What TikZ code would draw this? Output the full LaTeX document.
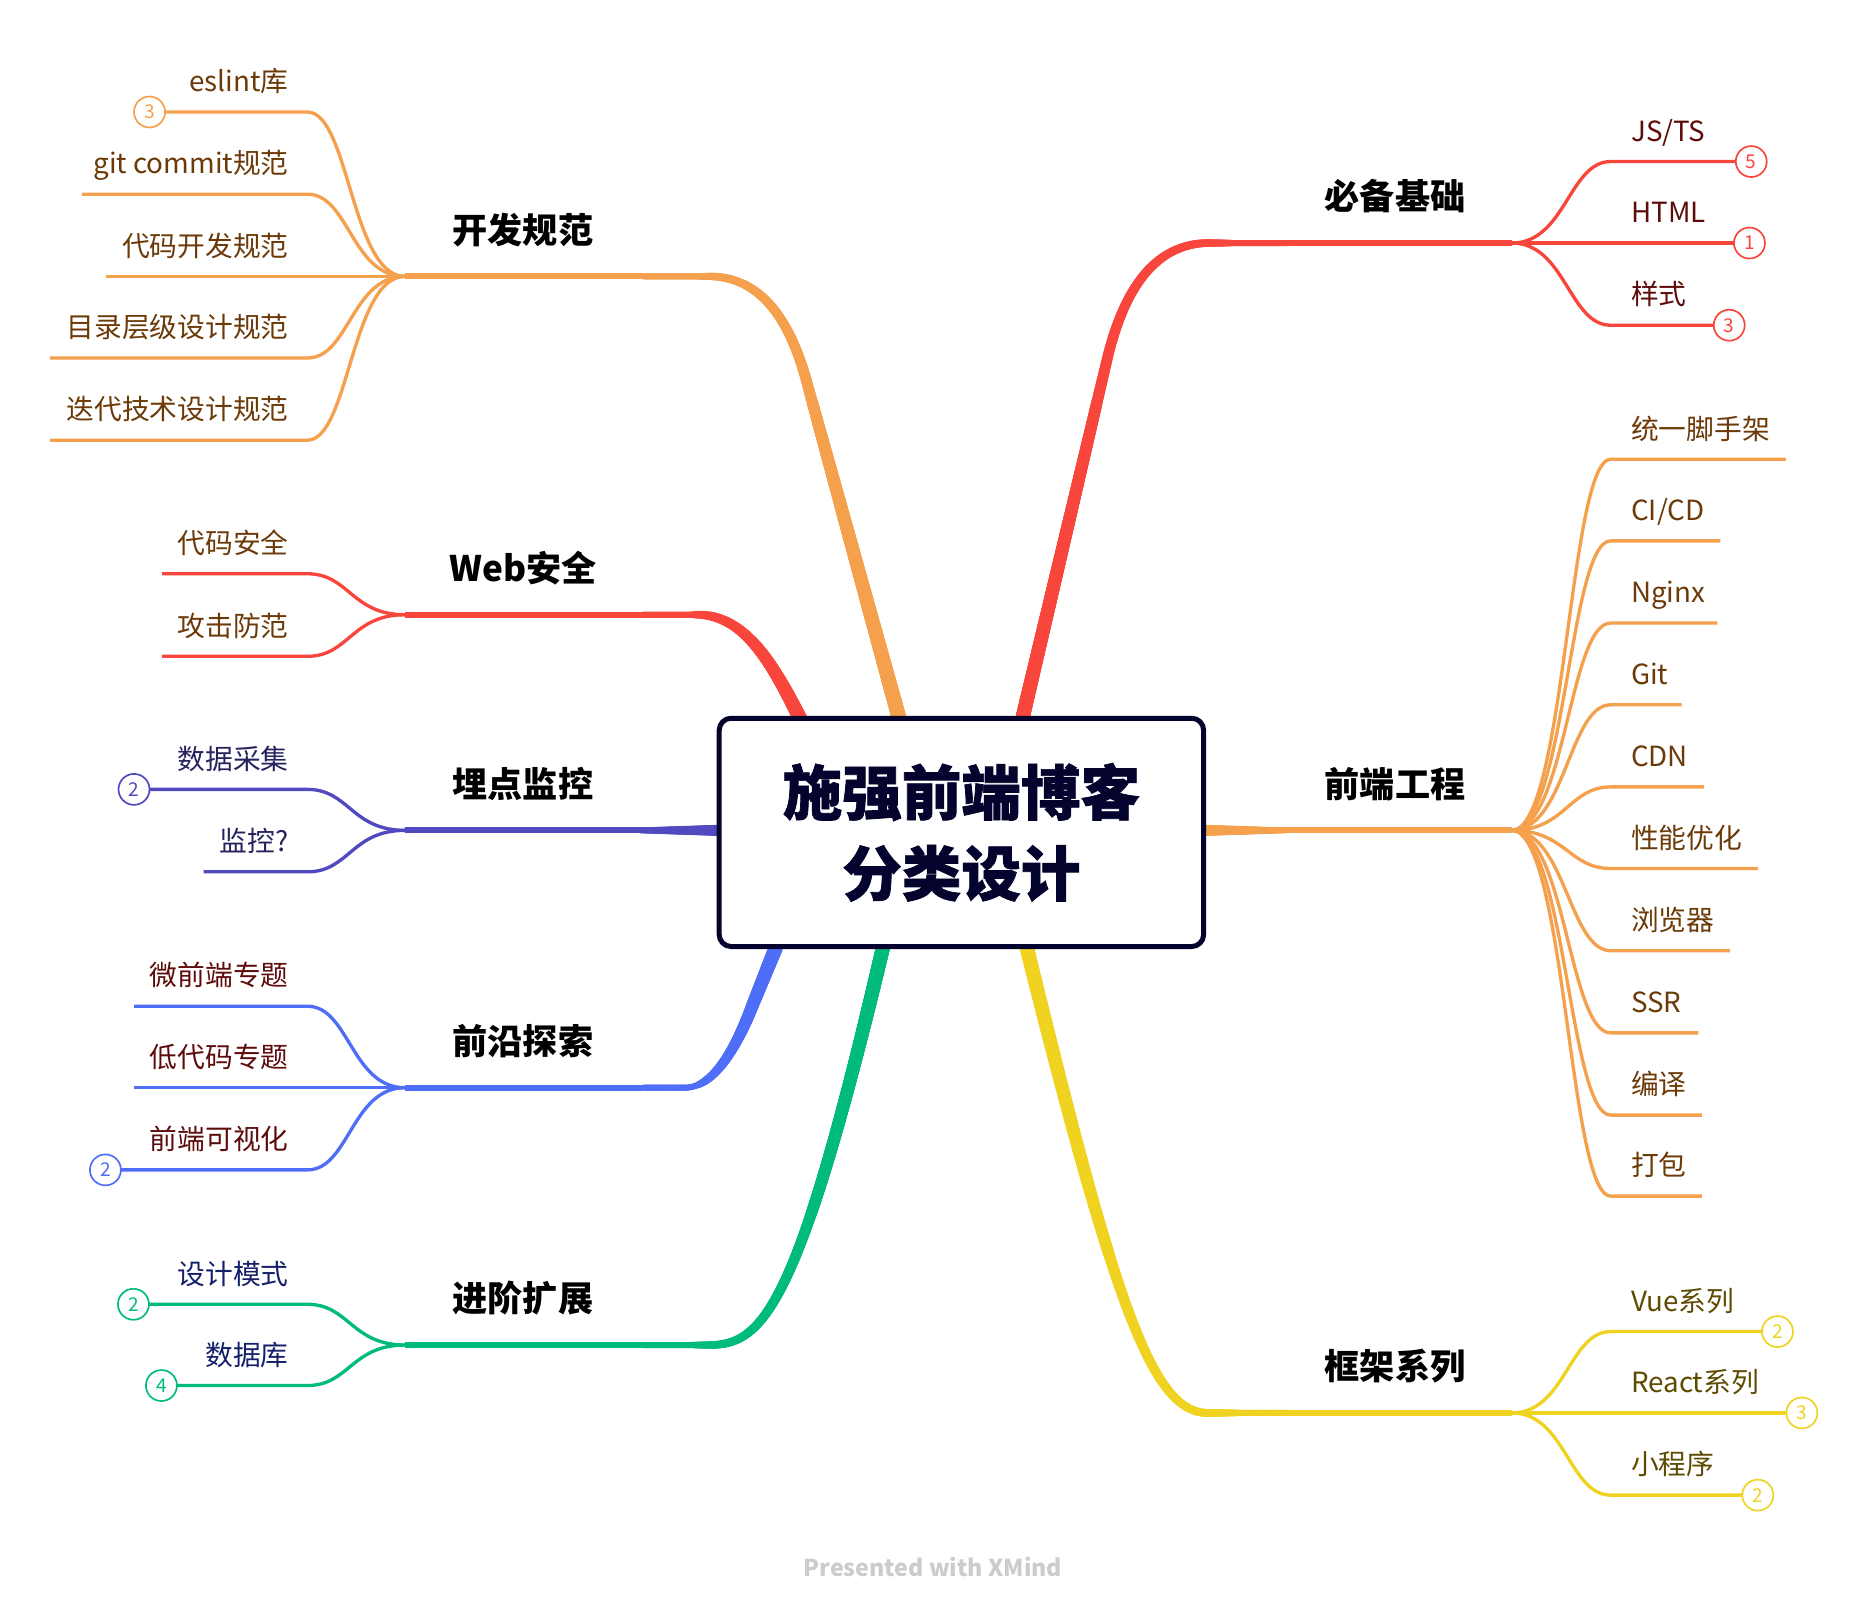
\documentclass[tikz,border=0pt]{standalone}
\usepackage{fontspec}
\setmainfont{Noto Sans CJK SC}
\newfontfamily\titlefont{Noto Sans CJK SC}[BoldFeatures={FakeBold=1.2}]
\usetikzlibrary{decorations.markings,calc}

\definecolor{cOrange}{HTML}{F5A04D}
\definecolor{cRed}{HTML}{F9463C}
\definecolor{cIndigo}{HTML}{5049C0}
\definecolor{cBlue}{HTML}{4F6EF7}
\definecolor{cGreen}{HTML}{00BB7B}
\definecolor{cYellow}{HTML}{F0D320}
\definecolor{tBrown}{HTML}{6B3A08}
\definecolor{tRed}{HTML}{5E0B0B}
\definecolor{tIndigo}{HTML}{25225E}
\definecolor{tNavy}{HTML}{15206B}
\definecolor{tOlive}{HTML}{5E4A00}
\definecolor{cNavy}{HTML}{03032E}
\definecolor{cWater}{HTML}{CCCCCC}

\tikzset{
  kid/.style={font=\fontsize{23.3}{28}\selectfont, inner sep=0pt},
  topic/.style={font=\fontsize{29.5}{34}\selectfont\bfseries, inner sep=0pt, text=black, anchor=base},
  sub/.style={line width=2.8pt},
  under/.style={line width=5pt},
  badge/.style={circle, draw=#1, fill=white, line width=1.4pt, minimum size=26pt, inner sep=0pt, text=#1, font=\fontsize{16}{16}\selectfont},
  taper/.style n args={4}{%
    postaction={decorate, decoration={markings,
      mark=between positions 0 and 1 step 0.8pt with {%
        \pgfmathsetmacro\tpL{\pgfdecoratedpathlength}%
        \pgfmathsetmacro\tpd{max(0.0001,(\tpL-\pgfkeysvalueof{/pgf/decoration/mark info/distance from start}-#2)/(\tpL-#2))}%
        \pgfmathsetmacro\tpr{2.5+(#3/2-2.5)*pow(\tpd,#4)}%
        \fill[#1] (0,0) circle[radius=\tpr pt];
      }}}
  }
}

\newcommand{\lkid}[7]{%
  \coordinate (#7e) at (258,#4);
  \coordinate (#7l) at (#5,#4);
  \draw[sub,#2] (#1) .. controls +(-45,0) and +(35,0) .. (#7e) -- (#7l);
  \node[kid,text=#3,anchor=base east] (#7t) at (242.5,#4-17) {#6};
}
\newcommand{\rkid}[7]{%
  \coordinate (#7e) at (1352,#4);
  \coordinate (#7l) at (#5,#4);
  \draw[sub,#2] (#1) .. controls +(45,0) and +(-35,0) .. (#7e) -- (#7l);
  \node[kid,text=#3,anchor=base west] (#7t) at (1369,#4-17) {#6};
}

\begin{document}
\begin{tikzpicture}[x=1pt,y=-1pt]
\fill[white] (0,0) rectangle (1568,1358);
\useasboundingbox (0,0) rectangle (1568,1358);

% junctions
\coordinate (J1) at (340,232);
\coordinate (J2) at (340,516);
\coordinate (J3) at (340,697);
\coordinate (J4) at (340,913);
\coordinate (J5) at (340,1129);
\coordinate (J6) at (1269,204);
\coordinate (J7) at (1269,697);
\coordinate (J8) at (1269,1186);

% ---------- main branches ----------
\coordinate (o1) at (755,604);  \coordinate (o1u) at (540,232);
\draw[under,cOrange] (J1) -- (o1u);
\draw[under,cOrange,taper={cOrange}{45}{12.5}{0.5}] (o1) -- (677,320) .. controls (661,261) and (634,232) .. (595,232) -- (o1u);

\coordinate (r1) at (672,604);  \coordinate (r1u) at (540,516);
\draw[under,cRed] (J2) -- (r1u);
\draw[under,cRed,taper={cRed}{40}{12}{0.5}] (r1) .. controls (648,556) and (625,516) .. (585,516) -- (r1u);

\coordinate (i1) at (604,697);  \coordinate (i1u) at (537,697);
\draw[under,cIndigo] (J3) -- (i1u);
\draw[under,cIndigo,taper={cIndigo}{0}{9.5}{1}] (i1) -- (i1u);

\coordinate (b1) at (651,796);  \coordinate (b1u) at (540,913);
\draw[under,cBlue] (J4) -- (b1u);
\draw[under,cBlue,taper={cBlue}{45}{12}{0.5}] (b1) -- (632,843) .. controls (614,890) and (595,913) .. (575,913) -- (b1u);

\coordinate (g1) at (741,796);  \coordinate (g1u) at (540,1129);
\draw[under,cGreen] (J5) -- (g1u);
\draw[under,cGreen,taper={cGreen}{45}{12}{0.5}] (g1) .. controls (669.5,1100) and (640,1129) .. (595,1129) -- (g1u);

\coordinate (r2) at (858,604);  \coordinate (r2u) at (1080,204);
\draw[under,cRed] (r2u) -- (J6);
\draw[under,cRed,taper={cRed}{45}{12}{0.5}] (r2) -- (929.7,300) .. controls (945.2,236) and (973.6,204) .. (1015,204) -- (r2u);

\coordinate (o2) at (1010,697);  \coordinate (o2u) at (1079,697);
\draw[under,cOrange] (o2u) -- (J7);
\draw[under,cOrange,taper={cOrange}{0}{9.5}{1}] (o2) -- (o2u);

\coordinate (y1) at (862,796);  \coordinate (y1u) at (1080,1186);
\draw[under,cYellow] (y1u) -- (J8);
\draw[under,cYellow,taper={cYellow}{45}{12}{0.5}] (y1) .. controls (937.6,1102) and (968,1186) .. (1014,1186) -- (y1u);

% ---------- central topic ----------
\node[draw=cNavy, line width=4.2pt, rounded corners=10pt, fill=white,
      minimum width=406.6pt, minimum height=191.6pt, inner sep=0pt,
      align=center, text=cNavy,
      font=\titlefont\bfseries\fontsize{50}{68}\selectfont] (root) at (807,698.7) {施强前端博客\\分类设计};

% ---------- main topic labels ----------
\node[topic] (t1) at (439,204) {开发规范};
\node[topic] (t2) at (439,488) {Web安全};
\node[topic] (t3) at (439,669) {埋点监控};
\node[topic] (t4) at (439,885) {前沿探索};
\node[topic] (t5) at (439,1101) {进阶扩展};
\node[topic] (t6) at (1171,176) {必备基础};
\node[topic] (t7) at (1171,669) {前端工程};
\node[topic] (t8) at (1171,1158) {框架系列};

% ---------- left children ----------
\lkid{J1}{cOrange}{tBrown}{94}{125.5}{eslint库}{a1}
\lkid{J1}{cOrange}{tBrown}{163}{69}{git commit规范}{a2}
\lkid{J1}{cOrange}{tBrown}{232}{89}{代码开发规范}{a3}
\lkid{J1}{cOrange}{tBrown}{300.5}{42}{目录层级设计规范}{a4}
\lkid{J1}{cOrange}{tBrown}{369.5}{42}{迭代技术设计规范}{a5}
\node[badge=cOrange] (a1b) at (a1l) {3};

\lkid{J2}{cRed}{tBrown}{481.6}{136}{代码安全}{w1}
\lkid{J2}{cRed}{tBrown}{550.9}{136}{攻击防范}{w2}

\lkid{J3}{cIndigo}{tIndigo}{662.6}{112.5}{数据采集}{m1}
\lkid{J3}{cIndigo}{tIndigo}{731.8}{171}{监控?}{m2}
\node[badge=cIndigo] (m1b) at (m1l) {2};

\lkid{J4}{cBlue}{tRed}{844.6}{112.5}{微前端专题}{f1}
\lkid{J4}{cBlue}{tRed}{913}{112.5}{低代码专题}{f2}
\lkid{J4}{cBlue}{tRed}{982}{88.5}{前端可视化}{f3}
\node[badge=cBlue] (f3b) at (f3l) {2};

\lkid{J5}{cGreen}{tNavy}{1094.8}{112}{设计模式}{g1}
\lkid{J5}{cGreen}{tNavy}{1163}{135.5}{数据库}{g2}
\node[badge=cGreen] (g1b) at (g1l) {2};
\node[badge=cGreen] (g2b) at (g2l) {4};

% ---------- right children ----------
\rkid{J6}{cRed}{tRed}{135.6}{1470}{JS/TS}{h1}
\rkid{J6}{cRed}{tRed}{204}{1468.5}{HTML}{h2}
\rkid{J6}{cRed}{tRed}{273}{1451.5}{样式}{h3}
\node[badge=cRed] (h1b) at (h1l) {5};
\node[badge=cRed] (h2b) at (h2l) {1};
\node[badge=cRed] (h3b) at (h3l) {3};

\rkid{J7}{cOrange}{tBrown}{385.5}{1499}{统一脚手架}{e1}
\rkid{J7}{cOrange}{tBrown}{454}{1444}{CI/CD}{e2}
\rkid{J7}{cOrange}{tBrown}{523}{1441.5}{Nginx}{e3}
\rkid{J7}{cOrange}{tBrown}{591.6}{1411.5}{Git}{e4}
\rkid{J7}{cOrange}{tBrown}{660.5}{1430.5}{CDN}{e5}
\rkid{J7}{cOrange}{tBrown}{729}{1475.5}{性能优化}{e6}
\rkid{J7}{cOrange}{tBrown}{798}{1452}{浏览器}{e7}
\rkid{J7}{cOrange}{tBrown}{867}{1425.5}{SSR}{e8}
\rkid{J7}{cOrange}{tBrown}{936}{1428.5}{编译}{e9}
\rkid{J7}{cOrange}{tBrown}{1004}{1428.5}{打包}{e10}

\rkid{J8}{cYellow}{tOlive}{1117.7}{1492}{Vue系列}{v1}
\rkid{J8}{cYellow}{tOlive}{1186}{1512.5}{React系列}{v2}
\rkid{J8}{cYellow}{tOlive}{1255}{1475.5}{小程序}{v3}
\node[badge=cYellow] (v1b) at (v1l) {2};
\node[badge=cYellow] (v2b) at (v2l) {3};
\node[badge=cYellow] (v3b) at (v3l) {2};

% ---------- watermark ----------
\node[text=cWater, font=\fontsize{19.5}{22}\selectfont\bfseries, inner sep=0pt] (wm) at (783,1315.7) {Presented with XMind};
\end{tikzpicture}
\end{document}
